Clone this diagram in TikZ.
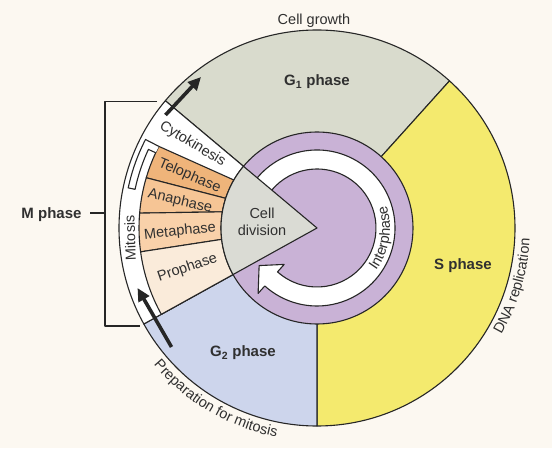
\documentclass[tikz,border=0pt]{standalone}
\usepackage{fontspec}
\setmainfont{Liberation Sans}
\usetikzlibrary{arrows.meta,decorations.text}
\definecolor{bgc}{HTML}{FCF8F1}
\definecolor{gonec}{HTML}{D9DBCD}
\definecolor{sc}{HTML}{F4EA6E}
\definecolor{gtwoc}{HTML}{CDD5EC}
\definecolor{purc}{HTML}{C9B2D6}
\definecolor{cdc}{HTML}{DADBD4}
\definecolor{teloc}{HTML}{EFB47A}
\definecolor{anac}{HTML}{F6C595}
\definecolor{metac}{HTML}{F9D1AA}
\definecolor{proc}{HTML}{FAEBDA}
\definecolor{linec}{HTML}{262626}
\definecolor{txtc}{HTML}{303030}
\begin{document}
\begin{tikzpicture}[x=1pt,y=1pt,
  edge/.style={draw=linec, line width=1.1pt, line join=round},
  lbl/.style={font=\fontsize{14.5}{17}\selectfont, text=txtc, inner sep=0pt},
  blbl/.style={font=\fontsize{15}{18}\selectfont\bfseries, text=txtc, inner sep=0pt},
  bigarrow/.style={line width=3.6pt, draw=linec, -{Triangle[length=13pt,width=12pt]}},
  arctext/.style={decorate, decoration={text along path, text align=center, text color=txtc, text={|\fontsize{14.5}{17}\selectfont|#1}}}
]
\useasboundingbox (0,0) rectangle (552,448);
\fill[bgc] (0,0) rectangle (552,448);

\begin{scope}[shift={(317,220)}]
  % outer sectors
  \path[edge, fill=gonec] (0,0) -- (48:198) arc[start angle=48, end angle=140, radius=198] -- cycle;
  \path[edge, fill=sc] (0,0) -- (-90:198) arc[start angle=-90, end angle=48, radius=198] -- cycle;
  \path[edge, fill=gtwoc] (0,0) -- (209:198) arc[start angle=209, end angle=270, radius=198] -- cycle;
  \path[edge, fill=white] (0,0) -- (140:198) arc[start angle=140, end angle=209, radius=198] -- cycle;
  % mitosis phases
  \path[edge, fill=teloc] (150:96) -- (152.7:178) arc[start angle=152.7, end angle=163.6, radius=178] -- (162:96) -- cycle;
  \path[edge, fill=anac] (162:96) -- (163.6:178) arc[start angle=163.6, end angle=175.2, radius=178] -- (170.3:96) -- cycle;
  \path[edge, fill=metac] (170.3:96) -- (175.2:178) arc[start angle=175.2, end angle=187.7, radius=178] -- (186.8:96) -- cycle;
  \path[edge, fill=proc] (186.8:96) -- (187.7:178) arc[start angle=187.7, end angle=209, radius=178] -- (209:96) -- cycle;
  % mitosis bracket strip
  \path[edge, fill=white] (152.7:178) -- (152.7:193) arc[start angle=152.7, end angle=168, radius=193] -- (168:186) arc[start angle=168, end angle=155, radius=186] -- (155:178);
  % interphase ring
  \path[edge, fill=purc] (0,0) circle[radius=96];
  \path[edge, fill=white] (150:78) arc[start angle=150, end angle=-132, radius=78]
     -- (-132:88) -- (-147:69) -- (-132:49) -- (-132:59)
     arc[start angle=-132, end angle=150, radius=59] -- cycle;
  % cell division wedge
  \path[edge, fill=cdc] (0,0) -- (140:96) arc[start angle=140, end angle=209, radius=96] -- cycle;
  % curved labels
  \path[arctext=Interphase] (-62:73) arc[start angle=-62, end angle=44, radius=73];
  \path[arctext=DNA replication] (-56:213) arc[start angle=-56, end angle=23, radius=213];
  \path[arctext=Preparation for mitosis] (196:213) arc[start angle=196, end angle=283, radius=213];
\end{scope}

% black arrows
\coordinate (ua0) at (165.5,333);
\coordinate (ua1) at (201,371);
\coordinate (la0) at (171.5,101);
\coordinate (la1) at (137.5,160);
\draw[bigarrow] (ua0) -- (ua1);
\draw[bigarrow] (la0) -- (la1);

% M phase bracket
\coordinate (bt) at (157,346.3);
\coordinate (btl) at (105,346.3);
\coordinate (bbl) at (105,122);
\coordinate (bb) at (140,122);
\coordinate (bm) at (105,235);
\coordinate (bmt) at (90,235);
\draw[edge] (bt) -- (btl) -- (bbl) -- (bb);
\draw[edge] (bm) -- (bmt);

% labels
\node[lbl] (cg) at (314,427.5) {Cell growth};
\node[blbl] (g1) at (317,366) {G\textsubscript{1} phase};
\node[blbl] (sp) at (463,182) {S phase};
\node[blbl] (g2) at (243,95) {G\textsubscript{2} phase};
\node[blbl] (mp) at (51.5,233) {M phase};
\node[lbl, align=center] (cd) at (262,226) {Cell\\division};
\node[lbl, rotate=-31] (cyto) at (192.5,304) {Cytokinesis};
\node[lbl, rotate=-23] (telo) at (189.5,272) {Telophase};
\node[lbl, rotate=-13] (ana) at (180,246.5) {Anaphase};
\node[lbl, rotate=6] (meta) at (180,216.3) {Metaphase};
\node[lbl, rotate=19] (pro) at (187.5,180) {Prophase};
\node[lbl, rotate=92] (mit) at (130,210) {Mitosis};
\end{tikzpicture}
\end{document}
